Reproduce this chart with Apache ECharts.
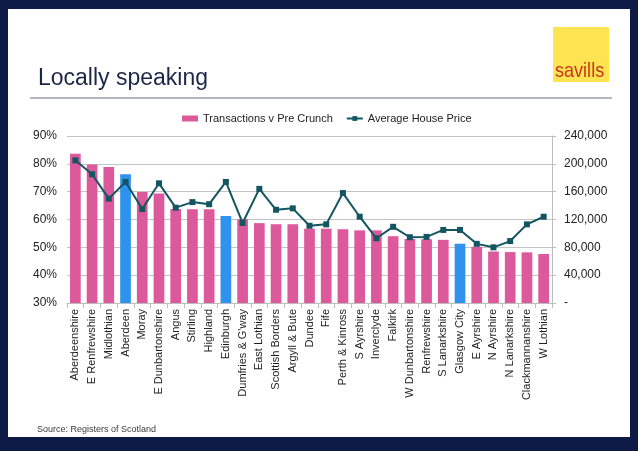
<!DOCTYPE html>
<html>
<head>
<meta charset="utf-8">
<script src="https://cdn.jsdelivr.net/npm/echarts@6/dist/echarts.min.js"></script>
<style>
  html, body { margin: 0; padding: 0; background: #0c1a45; }
  #main { width: 638px; height: 451px; }
</style>
</head>
<body>
<div id="main"></div>
<script>
// areas, in the order shown
var areas = ['Aberdeenshire', 'E Renfrewshire', 'Midlothian', 'Aberdeen', 'Moray', 'E Dunbartonshire',
  'Angus', 'Stirling', 'Highland', 'Edinburgh', "Dumfries & G'way", 'East Lothian', 'Scottish Borders',
  'Argyll & Bute', 'Dundee', 'Fife', 'Perth & Kinross', 'S Ayrshire', 'Inverclyde', 'Falkirk',
  'W Dunbartonshire', 'Renfrewshire', 'S Lanarkshire', 'Glasgow City', 'E Ayrshire', 'N Ayrshire',
  'N Lanarkshire', 'Clackmannanshire', 'W Lothian'];

// transactions as % of pre crunch level
var transactions = [83.6, 79.8, 78.9, 76.3, 69.9, 69.3, 63.8, 63.7, 63.7, 61.3, 60.1, 58.7, 58.3,
  58.3, 56.7, 56.7, 56.5, 56.1, 56.1, 54.0, 53.0, 52.9, 52.7, 51.3, 50.2, 48.5, 48.3, 48.2, 47.6];

// average house price (£)
var avgPrice = [205000, 185000, 150000, 174000, 135000, 172000, 137000, 145000, 142000, 174000,
  115000, 164000, 134000, 136000, 111000, 113000, 158000, 124000, 93000, 109500, 94500, 95000,
  105000, 105000, 85000, 80000, 89000, 113000, 124000];

// the cities drawn in blue
var cities = ['Aberdeen', 'Edinburgh', 'Glasgow City'];

var pink = '#dc5a9c';
var blue = '#2f93ee';
var teal = '#135561';
var font = 'Liberation Sans, Arial, sans-serif';

var chart = echarts.init(document.getElementById('main'));
chart.setOption({
  backgroundColor: '#0c1a45',
  textStyle: { fontFamily: font },
  animation: false,
  graphic: [
    { type: 'rect', shape: { x: 8, y: 9, width: 622, height: 428 }, style: { fill: '#ffffff' }, z: -10 },
    { type: 'text', left: 38, top: 67, style: { text: 'Locally speaking', font: '23px ' + font, fill: '#1b2748' } },
    { type: 'rect', shape: { x: 30, y: 97, width: 582, height: 2 }, style: { fill: '#b4b8c2' } },
    { type: 'rect', shape: { x: 553, y: 27, width: 56, height: 55 }, style: { fill: '#ffe451' } },
    { type: 'text', x: 555, y: 61, scaleX: 0.86, style: { text: 'savills', font: '21px ' + font, fill: '#c9351f' } },
    { type: 'text', left: 37, top: 425, style: { text: 'Source: Registers of Scotland', font: '9px ' + font, fill: '#3a3a3a' } }
  ],
  legend: {
    top: 108,
    left: 177,
    itemGap: 13,
    itemWidth: 16,
    itemHeight: 6,
    textStyle: { fontSize: 11, color: '#222', fontFamily: font },
    data: [
      { name: 'Transactions v Pre Crunch', icon: 'rect', itemStyle: { color: pink } },
      { name: 'Average House Price' }
    ]
  },
  grid: { left: 67, right: 86, top: 136, bottom: 148 },
  xAxis: {
    type: 'category',
    data: areas,
    axisLine: { lineStyle: { color: '#bdbdbd' } },
    axisTick: { show: true, interval: 0, lineStyle: { color: '#bdbdbd' } },
    axisLabel: { interval: 0, rotate: 90, fontSize: 11, color: '#1e1e1e', margin: 6 }
  },
  yAxis: [
    {
      type: 'value', min: 30, max: 90, interval: 10,
      axisLine: { show: false }, axisTick: { show: false },
      axisLabel: { formatter: '{value}%', fontSize: 12, color: '#222', margin: 10 },
      splitLine: { lineStyle: { color: '#c4c4c4' } }
    },
    {
      type: 'value', min: 0, max: 240000, interval: 40000,
      axisLine: { show: true, lineStyle: { color: '#bdbdbd' } },
      axisTick: { show: true, length: 4, lineStyle: { color: '#bdbdbd' } },
      splitLine: { show: false },
      axisLabel: {
        fontSize: 12, color: '#222', margin: 12,
        formatter: function (v) { return v === 0 ? '-' : v.toLocaleString('en-GB'); }
      }
    }
  ],
  series: [
    {
      name: 'Transactions v Pre Crunch',
      type: 'bar',
      data: transactions,
      barCategoryGap: '36%',
      itemStyle: {
        color: function (p) { return cities.indexOf(areas[p.dataIndex]) >= 0 ? blue : pink; }
      }
    },
    {
      name: 'Average House Price',
      type: 'line',
      yAxisIndex: 1,
      data: avgPrice,
      symbol: 'rect',
      symbolSize: 6,
      color: teal,
      lineStyle: { width: 2, color: teal },
      itemStyle: { color: teal }
    }
  ]
});
</script>
</body>
</html>
